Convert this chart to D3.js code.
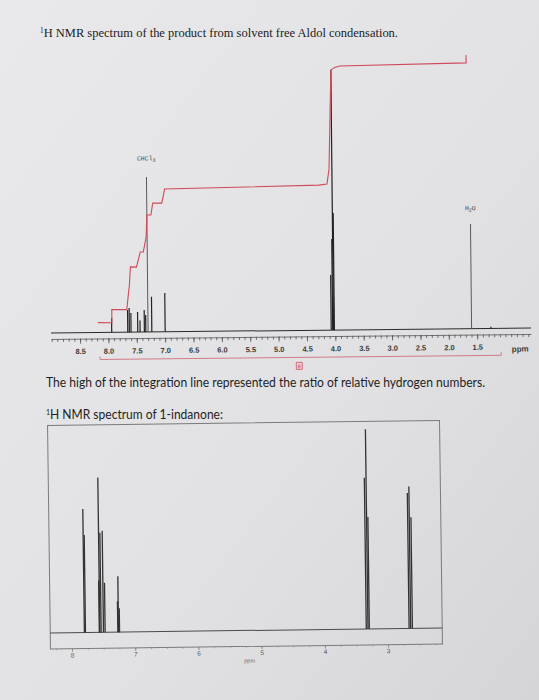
<!DOCTYPE html>
<html><head><meta charset="utf-8">
<script src="https://cdn.jsdelivr.net/npm/d3@7"></script>
<style>html,body{margin:0;padding:0;background:#e3e3e5;}svg{display:block;}</style>
</head><body>
<script>
// ---------- DATA ----------
// Top spectrum: product of solvent-free aldol condensation
const topTickLabels = [8.5, 8.0, 7.5, 7.0, 6.5, 6.0, 5.5, 5.0, 4.5, 4.0, 3.5, 3.0, 2.5, 2.0, 1.5];
const topPeakPpm    = [7.940, 7.657, 7.629, 7.599, 7.481, 7.440, 7.364, 7.339, 7.299, 7.233, 6.998, 4.071, 4.045, 4.030, 4.015, 1.597, 1.256];
const topPeakHeight = [5.5,   8.5,   9.3,   7.4,   7.7,   4.5,   8.5,   6.5,   59.6,  13.5,  14.9,  21.2,  35,    100,   45,    40.2,  0.6];
const topPeakKind   = ["s","s","s","s","s","s","s","s","solvent","s","s","s","s","s","s","solvent","s"];
const integralPpm    = [8.182, 7.935, 7.935, 7.670, 7.640, 7.620, 7.599, 7.493, 7.422, 7.369, 7.316, 7.299, 7.228, 7.193, 7.034, 6.981, 4.260, 4.119, 4.080, 4.030, 3.960, 3.871, 1.645, 1.645];
const integralHeight = [3.8,   3.7,   8.8,   8.7,   14.5,  18.0,  25.1,  25.0,  30.8,  30.8,  36.5,  45.0,  45.0,  49.6,  49.5,  54.9,  55.8,  56.2,  62.0,  100,   101.0, 101.5, 102.2, 105.2];
const solventLabels = [{ppm: 7.299, y: 66, base: "CHCl", sub: "3", after: ""}, {ppm: 1.597, y: 45.5, base: "H", sub: "2", after: "O"}];
const bracketPpm = [8.15, 1.08];

// Bottom spectrum: 1-indanone
const indTickLabels = [8, 7, 6, 5, 4, 3];
const indPeakPpm    = [7.800, 7.783, 7.564, 7.556, 7.535, 7.498, 7.472, 7.271, 7.260, 7.244, 3.341, 3.314, 3.293, 2.664, 2.639, 2.612];
const indPeakHeight = [61.8,  48.8,  26,    77.5,  49.8,  50.8,  24.8,  15.5,  28,    12,    75.6,  99.8,  56,    67.7,  70.9,  55.5];

// ---------- DRAW ----------
const W = 539, H = 700;
const svg = d3.select("body").append("svg").attr("width", W).attr("height", H);
const defs = svg.append("defs");
const gr = defs.append("linearGradient").attr("id","paper").attr("x1","0").attr("y1","0").attr("x2","1").attr("y2","1");
gr.append("stop").attr("offset","0").attr("stop-color","#e9e9eb");
gr.append("stop").attr("offset","0.6").attr("stop-color","#e1e1e3");
gr.append("stop").attr("offset","1").attr("stop-color","#d5d5d7");
svg.append("rect").attr("width", W).attr("height", H).attr("fill","url(#paper)");

// Texts
const t1 = svg.append("text").attr("x", 40).attr("y", 37)
  .attr("font-family","'Liberation Serif', serif").attr("font-size", 12.7).attr("fill","#1c1c1c")
  .attr("textLength", 358).attr("lengthAdjust","spacingAndGlyphs");
t1.append("tspan").attr("font-size", 7.5).attr("dy", -4.5).text("1");
t1.append("tspan").attr("dy", 4.5).text("H NMR spectrum of the product from solvent free Aldol condensation.");

svg.append("text").attr("x", 46).attr("y", 386.5)
  .attr("font-family","Lato, 'Open Sans', sans-serif").attr("font-size", 13).attr("fill","#1e1e1e")
  .attr("textLength", 439).attr("lengthAdjust","spacingAndGlyphs")
  .text("The high of the integration line represented the ratio of relative hydrogen numbers.");

const t3 = svg.append("text").attr("x", 46).attr("y", 419)
  .attr("font-family","Lato, 'Open Sans', sans-serif").attr("font-size", 13).attr("fill","#1e1e1e")
  .attr("textLength", 177).attr("lengthAdjust","spacingAndGlyphs");
t3.append("tspan").attr("font-size", 7.5).attr("dy", -4.5).text("1");
t3.append("tspan").attr("dy", 4.5).text("H NMR spectrum of 1-indanone:");

// ===== Top spectrum =====
const topG = svg.append("g").attr("transform","rotate(-0.6,290,330)");
const xT = d3.scaleLinear().domain([9.01, 0.55]).range([51, 531]);
const yT = d3.scaleLinear().domain([0, 100]).range([330.5, 70.5]);

topG.append("line").attr("x1", xT(9.01)).attr("x2", xT(0.55)).attr("y1", yT(0)).attr("y2", yT(0))
  .attr("stroke","#2a2a2a").attr("stroke-width",1);
topG.selectAll("line.pk").data(topPeakPpm).join("line").attr("class","pk")
  .attr("x1", d => xT(d)).attr("x2", d => xT(d))
  .attr("y1", yT(0)).attr("y2", (d,i) => yT(topPeakHeight[i]))
  .attr("stroke", (d,i) => topPeakKind[i] === "solvent" ? "#4a4a4a" : "#222")
  .attr("stroke-width", (d,i) => topPeakKind[i] === "solvent" ? 0.9 : 1.2);
topG.append("path").datum(integralPpm.map((p,i) => [p, integralHeight[i]]))
  .attr("d", d3.line().x(d => xT(d[0])).y(d => yT(d[1])))
  .attr("fill","none").attr("stroke","#cf4a5a").attr("stroke-width",1.1);
solventLabels.forEach(s => {
  const t = topG.append("text").attr("x", xT(s.ppm)).attr("y", yT(s.y))
    .attr("text-anchor","middle").attr("font-family","'Liberation Mono', monospace")
    .attr("font-size", 6.5).attr("fill","#444");
  t.append("tspan").text(s.base);
  t.append("tspan").attr("font-size",5).attr("dy",1.5).text(s.sub);
  if (s.after) t.append("tspan").attr("dy",-1.5).text(s.after);
});
const axisY = 336.5;
const minorVals = d3.range(90, 5, -1).map(v => v/10);
topG.append("g").attr("transform", `translate(0,${axisY})`)
  .call(d3.axisBottom(xT).tickValues(minorVals).tickSize(3).tickSizeOuter(0).tickFormat(""))
  .call(a => a.selectAll("path,line").attr("stroke","#555").attr("stroke-width",0.8));
topG.append("g").attr("transform", `translate(0,${axisY})`)
  .call(d3.axisBottom(xT).tickValues(topTickLabels).tickSize(5).tickPadding(5).tickSizeOuter(0).tickFormat(d3.format(".1f")))
  .call(a => a.select(".domain").remove())
  .call(a => a.selectAll("line").attr("stroke","#555").attr("stroke-width",0.8))
  .call(a => a.selectAll("text").attr("font-family","'Liberation Sans', sans-serif").attr("font-weight","bold")
      .attr("font-size",7.5).attr("fill","#3a3a3a"));
topG.append("text").attr("x", 520).attr("y", 354).attr("text-anchor","middle")
  .attr("font-family","'Liberation Sans', sans-serif").attr("font-weight","bold").attr("font-size",8).attr("fill","#3a3a3a").text("ppm");
const by = 357.5;
topG.append("path")
  .attr("d", `M${xT(bracketPpm[0])},${by-3}V${by}H${xT(bracketPpm[1])}V${by-3}`)
  .attr("fill","none").attr("stroke","#d06070").attr("stroke-width",0.8);
const bx = xT(4.64);
topG.append("rect").attr("x", bx-3).attr("y", 362.5).attr("width",6).attr("height",7)
  .attr("fill","#e8d6d8").attr("stroke","#d05060").attr("stroke-width",0.8);
topG.append("text").attr("x", bx).attr("y", 368.3).attr("text-anchor","middle")
  .attr("font-family","'Liberation Sans', sans-serif").attr("font-size",5.5).attr("fill","#c03040").text("8");

// ===== Bottom spectrum (1-indanone) =====
const botG = svg.append("g").attr("transform","rotate(-0.75,245,535)");
const xB = d3.scaleLinear().domain([8.34, 2.14]).range([49, 441]);
const yB = d3.scaleLinear().domain([0, 100]).range([630.5, 430.5]);
botG.append("rect").attr("x", 49).attr("y", 423).attr("width", 392).attr("height", 223.5)
  .attr("fill","none").attr("stroke","#7a7a7a").attr("stroke-width",1);
botG.append("line").attr("x1", 49).attr("x2", 441).attr("y1", yB(0)).attr("y2", yB(0))
  .attr("stroke","#4a4a4a").attr("stroke-width",1);
botG.selectAll("line.pk").data(indPeakPpm).join("line").attr("class","pk")
  .attr("x1", d => xB(d)).attr("x2", d => xB(d))
  .attr("y1", yB(0)).attr("y2", (d,i) => yB(indPeakHeight[i]))
  .attr("stroke","#333").attr("stroke-width",1.3);
botG.append("g").attr("transform","translate(0,646.5)")
  .call(d3.axisBottom(xB).tickValues(d3.range(8.25, 2.1, -0.25)).tickSize(1.5).tickSizeOuter(0).tickFormat(""))
  .call(a => a.select(".domain").remove())
  .call(a => a.selectAll("line").attr("stroke","#888").attr("stroke-width",0.6));
botG.append("g").attr("transform","translate(0,646.5)")
  .call(d3.axisBottom(xB).tickValues(indTickLabels).tickSize(3).tickPadding(1).tickSizeOuter(0).tickFormat(d3.format("d")))
  .call(a => a.select(".domain").remove())
  .call(a => a.selectAll("line").attr("stroke","#777").attr("stroke-width",0.7))
  .call(a => a.selectAll("text").attr("font-family","'Liberation Sans', sans-serif")
      .attr("font-size",6.5).attr("fill","#555"));
botG.append("text").attr("x", 248).attr("y", 662.5).attr("text-anchor","middle")
  .attr("font-family","'Liberation Sans', sans-serif").attr("font-size",5.5).attr("fill","#666").text("ppm");
</script>
</body></html>
